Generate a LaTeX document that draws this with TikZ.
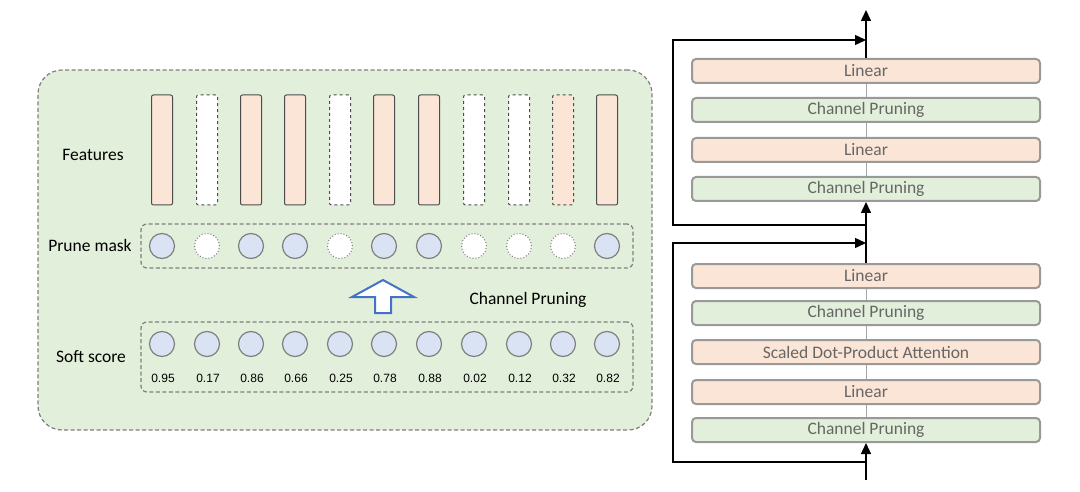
\documentclass[tikz,border=0pt]{standalone}
\usepackage{fontspec}
\setmainfont{Carlito}
\newfontfamily\arialf{Liberation Sans}
\usetikzlibrary{arrows.meta}
\definecolor{pk}{HTML}{FBE5D6}
\definecolor{gr}{HTML}{E2EFDA}
\definecolor{bl}{HTML}{DAE3F3}
\definecolor{bo}{HTML}{4472C4}
\begin{document}
\begin{tikzpicture}[x=1pt,y=-1pt,
 bar/.style={draw=black!70,line width=1pt,fill=pk,rounded corners=2pt,minimum width=21pt,minimum height=110pt,inner sep=0},
 dbar/.style={bar,dashed,fill=white},
 pbar/.style={bar,dashed},
 cir/.style={circle,draw=gray,line width=1.2pt,fill=bl,minimum size=25pt,inner sep=0},
 dcir/.style={circle,draw=gray,dotted,line width=1pt,fill=white,minimum size=25pt,inner sep=0},
 lay/.style={rounded corners=4pt,draw=gray!80,line width=2pt,minimum width=348pt,minimum height=24pt,inner sep=0,text=black!60,font=\fontsize{17.5}{19}\selectfont},
 lin/.style={lay,fill=pk},
 cp/.style={lay,fill=gr},
 lbl/.style={font=\fontsize{17.5}{19}\selectfont},
 dsh/.style={dash pattern=on 4pt off 2.5pt},
 arr/.style={-{Triangle[length=11pt,width=10pt]},line width=1.5pt}]
\useasboundingbox (0,0) rectangle (1080,492);
\node[draw=gray,dsh,line width=1.2pt,fill=gr,rounded corners=24pt,minimum width=614pt,minimum height=360pt] (panel) at (345,250) {};
\node[lbl] (lf) at (93,155) {Features};
\node[lbl] (lp) at (90,245) {Prune mask};
\node[lbl] (ls) at (91,357) {Soft score};
\node[draw=gray,dsh,line width=1.2pt,rounded corners=6pt,minimum width=492pt,minimum height=44pt] (mbox) at (387,246) {};
\node[draw=gray,dsh,line width=1.2pt,rounded corners=6pt,minimum width=492pt,minimum height=70pt] (sbox) at (387,357) {};
\foreach \x/\t/\c/\v [count=\i] in {162/bar/cir/0.95,207/dbar/dcir/0.17,251/bar/cir/0.86,295/bar/cir/0.66,340/dbar/dcir/0.25,384/bar/cir/0.78,429/bar/cir/0.88,474/dbar/dcir/0.02,519/dbar/dcir/0.12,563/pbar/dcir/0.32,607/bar/cir/0.82}{
 \node[\t] (f\i) at (\x,150) {};
 \node[\c] (m\i) at (\x,246) {};
 \node[cir] (s\i) at (\x,344) {};
 \node[font=\arialf\fontsize{12}{14}\selectfont] (v\i) at (\x+1,378) {\v};
}
\draw[draw=bo,line width=2pt,fill=white] (375,313) -- (375,297) -- (352,297) -- (383,280) -- (414,297) -- (391,297) -- (391,313) -- cycle;
\node[lbl] (cpt) at (528,300) {Channel Pruning};
% right
\node[lin] (r1) at (866,71) {Linear};
\node[cp] (r2) at (866,110) {Channel Pruning};
\node[lin] (r3) at (866,150) {Linear};
\node[cp] (r4) at (866,189) {Channel Pruning};
\node[lin] (r5) at (866,276) {Linear};
\node[cp] (r6) at (866,313) {Channel Pruning};
\node[lin] (r7) at (866,352) {Scaled Dot-Product Attention};
\node[lin] (r8) at (866,392) {Linear};
\node[cp] (r9) at (866,430) {Channel Pruning};
\foreach \a/\b in {r1/r2,r2/r3,r3/r4,r5/r6,r6/r7,r7/r8,r8/r9}{\draw[gray!70,line width=0.8pt] (\a) -- (\b);}
\coordinate (in) at (866,480);
\coordinate (out) at (866,10);
\coordinate (b1) at (866,462);
\coordinate (b2) at (866,243);
\coordinate (b3) at (866,225);
\coordinate (b4) at (866,40);
\draw[arr] (in) -- (r9);
\draw[arr] (r5.north) -- (r4.south);
\draw[arr] (r1.north) -- (out);
\draw[arr] (b1) -- (673,462) -- (673,243) -- (b2);
\draw[arr] (b3) -- (673,225) -- (673,40) -- (b4);
\end{tikzpicture}
\end{document}
